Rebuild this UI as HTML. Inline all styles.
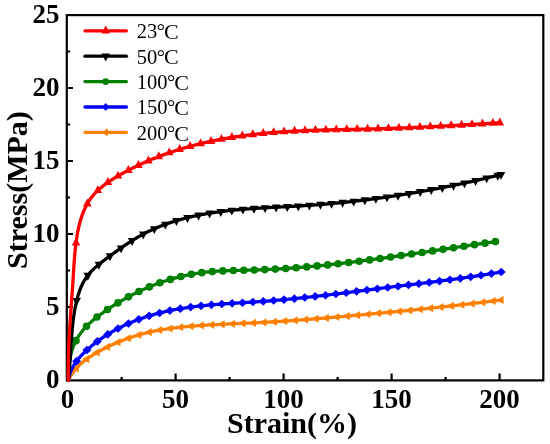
<!DOCTYPE html>
<html><head><meta charset="utf-8"><style>
html,body{margin:0;padding:0;background:#fff;width:550px;height:444px;overflow:hidden}
svg{display:block}
</style></head><body>
<svg width="550" height="444" viewBox="0 0 550 444">
<rect width="550" height="444" fill="#fff"/>
<rect x="66.8" y="15.1" width="476.5" height="365.3" fill="none" stroke="#000" stroke-width="2.2"/>
<path d="M121.6 380.4V377 M175.6 380.4V373.6 M229.6 380.4V377 M283.6 380.4V373.6 M337.6 380.4V377 M391.6 380.4V373.6 M445.6 380.4V377 M499.6 380.4V373.6 M66.8 343.5H70.1 M66.8 307.0H73 M66.8 270.5H70.1 M66.8 234.0H73 M66.8 197.5H70.1 M66.8 161.0H73 M66.8 124.5H70.1 M66.8 88.0H73 M66.8 51.5H70.1" stroke="#000" stroke-width="2.2" fill="none"/>
<path d="M68.77 379.79 L69.18 378.96 L69.60 378.14 L70.03 377.33 L70.48 376.53 L70.94 375.75 L71.41 374.98 L71.89 374.22 L72.39 373.47 L72.90 372.74 L73.42 372.02 L73.96 371.30 L74.50 370.60 L75.06 369.91 L75.63 369.23 L76.21 368.56 L76.80 367.90 L77.40 367.25 L78.01 366.61 L78.63 365.98 L79.26 365.36 L79.89 364.75 L80.54 364.15 L81.20 363.56 L81.86 362.97 L82.53 362.40 L83.22 361.83 L83.90 361.27 L84.60 360.72 L85.30 360.17 L86.01 359.64 L86.73 359.11 L87.46 358.59 L88.19 358.07 L88.92 357.56 L89.66 357.06 L90.41 356.57 L91.16 356.08 L91.92 355.59 L92.68 355.12 L93.45 354.64 L94.22 354.18 L94.99 353.72 L95.77 353.26 L96.56 352.81 L97.34 352.36 L98.13 351.92 L98.92 351.48 L99.71 351.05 L100.51 350.61 L101.31 350.19 L102.11 349.76 L102.91 349.34 L103.71 348.93 L104.52 348.52 L105.33 348.11 L106.14 347.70 L106.95 347.30 L107.76 346.90 L108.58 346.51 L109.40 346.12 L110.21 345.74 L111.04 345.35 L111.86 344.98 L112.68 344.60 L113.51 344.23 L114.34 343.86 L115.16 343.50 L116.00 343.14 L116.83 342.78 L117.66 342.43 L118.50 342.09 L119.34 341.74 L120.17 341.40 L121.01 341.06 L121.86 340.73 L122.70 340.40 L123.54 340.08 L124.39 339.76 L125.24 339.44 L126.09 339.13 L126.94 338.82 L127.79 338.52 L128.64 338.21 L129.49 337.92 L130.35 337.62 L131.20 337.34 L132.06 337.05 L132.92 336.77 L133.78 336.49 L134.64 336.22 L135.50 335.95 L136.37 335.68 L137.23 335.42 L138.10 335.17 L138.96 334.91 L139.83 334.66 L140.70 334.42 L141.57 334.18 L142.44 333.94 L143.31 333.71 L144.18 333.48 L145.05 333.26 L145.92 333.04 L146.80 332.82 L147.67 332.61 L148.55 332.40 L149.43 332.20 L150.30 332.00 L151.18 331.80 L152.06 331.61 L152.94 331.42 L153.82 331.24 L154.70 331.06 L155.58 330.88 L156.46 330.71 L157.34 330.54 L158.22 330.38 L159.11 330.22 L159.99 330.06 L160.88 329.91 L161.76 329.76 L162.65 329.61 L163.53 329.46 L164.42 329.32 L165.30 329.19 L166.19 329.05 L167.08 328.92 L167.97 328.79 L168.86 328.67 L169.74 328.54 L170.63 328.42 L171.52 328.30 L172.41 328.19 L173.31 328.08 L174.20 327.97 L175.09 327.86 L175.98 327.75 L176.87 327.65 L177.76 327.55 L178.66 327.45 L179.55 327.35 L180.44 327.25 L181.34 327.16 L182.23 327.07 L183.12 326.98 L184.02 326.89 L184.91 326.80 L185.81 326.72 L186.70 326.64 L187.60 326.55 L188.49 326.47 L189.39 326.39 L190.28 326.32 L191.18 326.24 L192.08 326.16 L192.97 326.09 L193.87 326.02 L194.77 325.95 L195.66 325.88 L196.56 325.81 L197.46 325.74 L198.36 325.68 L199.26 325.61 L200.15 325.55 L201.05 325.49 L201.95 325.42 L202.85 325.36 L203.75 325.31 L204.65 325.25 L205.54 325.19 L206.44 325.13 L207.34 325.08 L208.24 325.02 L209.14 324.97 L210.04 324.92 L210.94 324.87 L211.84 324.82 L212.74 324.77 L213.64 324.72 L214.54 324.67 L215.44 324.62 L216.34 324.57 L217.24 324.53 L218.15 324.48 L219.05 324.43 L219.95 324.39 L220.85 324.35 L221.75 324.30 L222.65 324.26 L223.55 324.22 L224.45 324.17 L225.35 324.13 L226.26 324.09 L227.16 324.05 L228.06 324.01 L228.96 323.97 L229.86 323.93 L230.76 323.89 L231.67 323.85 L232.57 323.81 L233.47 323.77 L234.37 323.73 L235.27 323.69 L236.18 323.66 L237.08 323.62 L237.98 323.58 L238.88 323.54 L239.78 323.50 L240.69 323.46 L241.59 323.42 L242.49 323.39 L243.39 323.35 L244.29 323.31 L245.20 323.27 L246.10 323.23 L247.00 323.19 L247.90 323.15 L248.80 323.11 L249.71 323.07 L250.61 323.03 L251.51 322.99 L252.41 322.95 L253.31 322.91 L254.22 322.86 L255.12 322.82 L256.02 322.78 L256.92 322.74 L257.82 322.69 L258.72 322.65 L259.62 322.60 L260.53 322.56 L261.43 322.51 L262.33 322.46 L263.23 322.42 L264.13 322.37 L265.03 322.32 L265.93 322.27 L266.83 322.22 L267.73 322.17 L268.63 322.12 L269.53 322.07 L270.44 322.02 L271.34 321.96 L272.24 321.91 L273.14 321.86 L274.04 321.80 L274.94 321.75 L275.84 321.69 L276.74 321.64 L277.64 321.58 L278.54 321.52 L279.44 321.47 L280.34 321.41 L281.24 321.35 L282.14 321.29 L283.03 321.23 L283.93 321.17 L284.83 321.11 L285.73 321.05 L286.63 320.99 L287.53 320.93 L288.43 320.87 L289.33 320.80 L290.23 320.74 L291.13 320.68 L292.03 320.61 L292.93 320.55 L293.83 320.49 L294.72 320.42 L295.62 320.35 L296.52 320.29 L297.42 320.22 L298.32 320.16 L299.22 320.09 L300.12 320.02 L301.02 319.95 L301.91 319.89 L302.81 319.82 L303.71 319.75 L304.61 319.68 L305.51 319.61 L306.41 319.54 L307.30 319.47 L308.20 319.40 L309.10 319.33 L310.00 319.26 L310.90 319.19 L311.80 319.11 L312.69 319.04 L313.59 318.97 L314.49 318.90 L315.39 318.82 L316.29 318.75 L317.18 318.68 L318.08 318.60 L318.98 318.53 L319.88 318.45 L320.78 318.38 L321.67 318.31 L322.57 318.23 L323.47 318.15 L324.37 318.08 L325.26 318.00 L326.16 317.93 L327.06 317.85 L327.96 317.78 L328.86 317.70 L329.75 317.62 L330.65 317.55 L331.55 317.47 L332.45 317.39 L333.34 317.31 L334.24 317.24 L335.14 317.16 L336.04 317.08 L336.93 317.00 L337.83 316.93 L338.73 316.85 L339.63 316.77 L340.52 316.69 L341.42 316.61 L342.32 316.53 L343.22 316.45 L344.12 316.38 L345.01 316.30 L345.91 316.22 L346.81 316.14 L347.71 316.06 L348.60 315.98 L349.50 315.90 L350.40 315.82 L351.30 315.74 L352.19 315.66 L353.09 315.58 L353.99 315.50 L354.89 315.42 L355.78 315.34 L356.68 315.26 L357.58 315.18 L358.48 315.10 L359.37 315.02 L360.27 314.94 L361.17 314.86 L362.07 314.78 L362.97 314.70 L363.86 314.62 L364.76 314.54 L365.66 314.46 L366.56 314.37 L367.45 314.29 L368.35 314.21 L369.25 314.13 L370.15 314.05 L371.04 313.97 L371.94 313.88 L372.84 313.80 L373.74 313.72 L374.63 313.64 L375.53 313.56 L376.43 313.47 L377.33 313.39 L378.22 313.31 L379.12 313.22 L380.02 313.14 L380.92 313.06 L381.81 312.98 L382.71 312.89 L383.61 312.81 L384.51 312.72 L385.40 312.64 L386.30 312.56 L387.20 312.47 L388.10 312.39 L388.99 312.30 L389.89 312.22 L390.79 312.13 L391.69 312.05 L392.58 311.96 L393.48 311.88 L394.38 311.79 L395.28 311.71 L396.17 311.62 L397.07 311.54 L397.97 311.45 L398.86 311.36 L399.76 311.28 L400.66 311.19 L401.56 311.10 L402.45 311.02 L403.35 310.93 L404.25 310.84 L405.15 310.75 L406.04 310.67 L406.94 310.58 L407.84 310.49 L408.73 310.40 L409.63 310.31 L410.53 310.23 L411.43 310.14 L412.32 310.05 L413.22 309.96 L414.12 309.87 L415.01 309.78 L415.91 309.69 L416.81 309.60 L417.70 309.51 L418.60 309.42 L419.50 309.33 L420.40 309.24 L421.29 309.15 L422.19 309.05 L423.09 308.96 L423.98 308.87 L424.88 308.78 L425.78 308.69 L426.67 308.59 L427.57 308.50 L428.47 308.41 L429.36 308.32 L430.26 308.22 L431.16 308.13 L432.05 308.04 L432.95 307.94 L433.85 307.85 L434.74 307.75 L435.64 307.66 L436.54 307.56 L437.43 307.47 L438.33 307.37 L439.23 307.28 L440.12 307.18 L441.02 307.09 L441.91 306.99 L442.81 306.89 L443.71 306.79 L444.60 306.70 L445.50 306.60 L446.40 306.50 L447.29 306.40 L448.19 306.31 L449.08 306.21 L449.98 306.11 L450.88 306.01 L451.77 305.91 L452.67 305.81 L453.56 305.71 L454.46 305.61 L455.36 305.51 L456.25 305.41 L457.15 305.31 L458.04 305.21 L458.94 305.11 L459.83 305.00 L460.73 304.90 L461.63 304.80 L462.52 304.70 L463.42 304.59 L464.31 304.49 L465.21 304.39 L466.10 304.28 L467.00 304.18 L467.89 304.08 L468.79 303.97 L469.69 303.87 L470.58 303.76 L471.48 303.65 L472.37 303.55 L473.27 303.44 L474.16 303.34 L475.06 303.23 L475.95 303.12 L476.85 303.01 L477.74 302.91 L478.64 302.80 L479.53 302.69 L480.43 302.58 L481.32 302.47 L482.22 302.36 L483.11 302.25 L484.01 302.14 L484.90 302.03 L485.80 301.92 L486.69 301.81 L487.58 301.70 L488.48 301.59 L489.37 301.47 L490.27 301.36 L491.16 301.25 L492.06 301.14 L492.95 301.02 L493.85 300.91 L494.74 300.79 L495.63 300.68 L496.53 300.56 L497.42 300.45 L498.32 300.33 L499.21 300.22 L500.10 300.10 L501.00 299.98" fill="none" stroke="#ff8000" stroke-width="3.3" stroke-linejoin="round" stroke-linecap="round"/>
<path d="M71.60 368.35L78.80 364.25L78.80 372.45ZM82.02 359.04L89.22 354.94L89.22 363.14ZM92.44 352.42L99.64 348.32L99.64 356.52ZM102.86 346.95L110.06 342.85L110.06 351.05ZM113.28 342.26L120.48 338.16L120.48 346.36ZM123.70 338.26L130.90 334.16L130.90 342.36ZM134.12 334.93L141.32 330.83L141.32 339.03ZM144.54 332.21L151.74 328.11L151.74 336.31ZM154.96 330.10L162.16 326.00L162.16 334.20ZM165.38 328.48L172.58 324.38L172.58 332.58ZM175.80 327.24L183.00 323.14L183.00 331.34ZM186.22 326.25L193.42 322.15L193.42 330.35ZM196.64 325.46L203.84 321.36L203.84 329.56ZM207.06 324.81L214.26 320.71L214.26 328.91ZM217.48 324.28L224.68 320.18L224.68 328.38ZM227.90 323.81L235.10 319.71L235.10 327.91ZM238.32 323.36L245.52 319.26L245.52 327.46ZM248.74 322.90L255.94 318.80L255.94 327.00ZM259.16 322.38L266.36 318.28L266.36 326.48ZM269.58 321.78L276.78 317.68L276.78 325.88ZM280.00 321.11L287.20 317.01L287.20 325.21ZM290.42 320.38L297.62 316.28L297.62 324.48ZM300.84 319.60L308.04 315.50L308.04 323.70ZM311.26 318.77L318.46 314.67L318.46 322.87ZM321.68 317.90L328.88 313.80L328.88 322.00ZM332.10 317.01L339.30 312.91L339.30 321.11ZM342.52 316.09L349.72 311.99L349.72 320.19ZM352.94 315.17L360.14 311.07L360.14 319.27ZM363.36 314.23L370.56 310.13L370.56 318.33ZM373.78 313.27L380.98 309.17L380.98 317.37ZM384.20 312.30L391.40 308.20L391.40 316.40ZM394.62 311.31L401.82 307.21L401.82 315.41ZM405.04 310.29L412.24 306.19L412.24 314.39ZM415.46 309.25L422.66 305.15L422.66 313.35ZM425.88 308.18L433.08 304.08L433.08 312.28ZM436.30 307.08L443.50 302.98L443.50 311.18ZM446.72 305.94L453.92 301.84L453.92 310.04ZM457.14 304.76L464.34 300.66L464.34 308.86ZM467.56 303.55L474.76 299.45L474.76 307.65ZM477.98 302.29L485.18 298.19L485.18 306.39ZM488.40 300.99L495.60 296.89L495.60 305.09ZM496.40 299.98L503.60 295.88L503.60 304.08Z" fill="#ff8000"/>
<path d="M68.55 379.98 L68.69 379.04 L68.85 378.10 L69.04 377.18 L69.25 376.27 L69.47 375.37 L69.72 374.49 L70.00 373.61 L70.29 372.74 L70.60 371.89 L70.93 371.04 L71.28 370.21 L71.64 369.39 L72.03 368.57 L72.43 367.77 L72.85 366.97 L73.29 366.19 L73.74 365.41 L74.20 364.64 L74.69 363.88 L75.18 363.13 L75.69 362.39 L76.21 361.66 L76.75 360.93 L77.30 360.21 L77.86 359.50 L78.43 358.80 L79.01 358.10 L79.61 357.41 L80.21 356.73 L80.82 356.06 L81.44 355.39 L82.07 354.72 L82.71 354.07 L83.35 353.41 L84.01 352.77 L84.66 352.13 L85.33 351.49 L86.00 350.86 L86.67 350.24 L87.35 349.62 L88.04 349.00 L88.73 348.39 L89.42 347.78 L90.12 347.18 L90.82 346.58 L91.53 345.99 L92.24 345.40 L92.96 344.82 L93.68 344.24 L94.40 343.67 L95.13 343.10 L95.86 342.54 L96.60 341.98 L97.34 341.42 L98.09 340.87 L98.84 340.33 L99.59 339.79 L100.35 339.25 L101.11 338.72 L101.87 338.19 L102.64 337.67 L103.41 337.15 L104.19 336.64 L104.97 336.13 L105.75 335.63 L106.54 335.13 L107.33 334.64 L108.12 334.15 L108.91 333.66 L109.71 333.18 L110.52 332.70 L111.32 332.23 L112.13 331.77 L112.94 331.30 L113.76 330.85 L114.57 330.39 L115.39 329.94 L116.22 329.50 L117.04 329.06 L117.87 328.63 L118.70 328.19 L119.54 327.77 L120.37 327.35 L121.21 326.93 L122.05 326.52 L122.90 326.11 L123.74 325.71 L124.59 325.31 L125.44 324.91 L126.29 324.52 L127.15 324.14 L128.00 323.75 L128.86 323.38 L129.72 323.00 L130.58 322.64 L131.45 322.27 L132.31 321.91 L133.18 321.56 L134.05 321.21 L134.92 320.86 L135.79 320.52 L136.67 320.18 L137.54 319.85 L138.42 319.52 L139.30 319.20 L140.18 318.88 L141.06 318.56 L141.94 318.25 L142.82 317.94 L143.71 317.64 L144.59 317.34 L145.48 317.05 L146.36 316.76 L147.25 316.47 L148.14 316.19 L149.03 315.91 L149.92 315.64 L150.81 315.37 L151.70 315.11 L152.59 314.85 L153.49 314.59 L154.38 314.34 L155.27 314.09 L156.17 313.85 L157.06 313.61 L157.96 313.37 L158.85 313.14 L159.75 312.91 L160.65 312.69 L161.55 312.47 L162.45 312.25 L163.35 312.04 L164.25 311.83 L165.15 311.62 L166.05 311.42 L166.95 311.22 L167.85 311.02 L168.76 310.83 L169.66 310.64 L170.56 310.45 L171.47 310.27 L172.37 310.09 L173.28 309.91 L174.19 309.74 L175.09 309.57 L176.00 309.40 L176.91 309.24 L177.82 309.08 L178.73 308.92 L179.64 308.77 L180.55 308.61 L181.46 308.46 L182.37 308.32 L183.28 308.17 L184.19 308.03 L185.10 307.89 L186.01 307.76 L186.93 307.62 L187.84 307.49 L188.75 307.36 L189.67 307.24 L190.58 307.11 L191.50 306.99 L192.41 306.87 L193.33 306.76 L194.25 306.64 L195.16 306.53 L196.08 306.42 L197.00 306.31 L197.91 306.21 L198.83 306.10 L199.75 306.00 L200.67 305.90 L201.59 305.80 L202.51 305.70 L203.43 305.61 L204.35 305.52 L205.27 305.43 L206.19 305.34 L207.11 305.25 L208.03 305.16 L208.95 305.08 L209.87 304.99 L210.80 304.91 L211.72 304.83 L212.64 304.75 L213.56 304.68 L214.49 304.60 L215.41 304.52 L216.33 304.45 L217.26 304.38 L218.18 304.31 L219.11 304.24 L220.03 304.17 L220.95 304.10 L221.88 304.03 L222.80 303.97 L223.73 303.90 L224.65 303.84 L225.58 303.77 L226.50 303.71 L227.43 303.65 L228.36 303.58 L229.28 303.52 L230.21 303.46 L231.13 303.40 L232.06 303.34 L232.99 303.29 L233.91 303.23 L234.84 303.17 L235.77 303.11 L236.69 303.05 L237.62 303.00 L238.55 302.94 L239.47 302.88 L240.40 302.83 L241.33 302.77 L242.26 302.71 L243.18 302.66 L244.11 302.60 L245.04 302.54 L245.96 302.49 L246.89 302.43 L247.82 302.37 L248.75 302.32 L249.67 302.26 L250.60 302.20 L251.53 302.14 L252.46 302.08 L253.38 302.02 L254.31 301.97 L255.24 301.91 L256.16 301.84 L257.09 301.78 L258.02 301.72 L258.94 301.66 L259.87 301.60 L260.80 301.53 L261.72 301.47 L262.65 301.40 L263.58 301.33 L264.50 301.27 L265.43 301.20 L266.36 301.13 L267.28 301.06 L268.21 300.99 L269.13 300.91 L270.06 300.84 L270.98 300.77 L271.91 300.69 L272.83 300.62 L273.76 300.54 L274.69 300.46 L275.61 300.39 L276.53 300.31 L277.46 300.23 L278.38 300.15 L279.31 300.07 L280.23 299.99 L281.16 299.90 L282.08 299.82 L283.01 299.74 L283.93 299.65 L284.86 299.57 L285.78 299.48 L286.70 299.39 L287.63 299.31 L288.55 299.22 L289.47 299.13 L290.40 299.04 L291.32 298.95 L292.25 298.86 L293.17 298.77 L294.09 298.67 L295.02 298.58 L295.94 298.49 L296.86 298.39 L297.78 298.30 L298.71 298.20 L299.63 298.11 L300.55 298.01 L301.48 297.91 L302.40 297.82 L303.32 297.72 L304.24 297.62 L305.17 297.52 L306.09 297.42 L307.01 297.32 L307.93 297.22 L308.86 297.12 L309.78 297.02 L310.70 296.91 L311.62 296.81 L312.54 296.71 L313.47 296.60 L314.39 296.50 L315.31 296.39 L316.23 296.29 L317.15 296.18 L318.08 296.08 L319.00 295.97 L319.92 295.86 L320.84 295.76 L321.76 295.65 L322.68 295.54 L323.60 295.43 L324.53 295.32 L325.45 295.22 L326.37 295.11 L327.29 295.00 L328.21 294.89 L329.13 294.78 L330.05 294.67 L330.97 294.55 L331.90 294.44 L332.82 294.33 L333.74 294.22 L334.66 294.11 L335.58 293.99 L336.50 293.88 L337.42 293.77 L338.34 293.66 L339.26 293.54 L340.18 293.43 L341.10 293.31 L342.03 293.20 L342.95 293.09 L343.87 292.97 L344.79 292.86 L345.71 292.74 L346.63 292.63 L347.55 292.51 L348.47 292.40 L349.39 292.28 L350.31 292.16 L351.23 292.05 L352.15 291.93 L353.07 291.82 L353.99 291.70 L354.91 291.58 L355.83 291.47 L356.75 291.35 L357.67 291.24 L358.59 291.12 L359.51 291.00 L360.44 290.89 L361.36 290.77 L362.28 290.65 L363.20 290.54 L364.12 290.42 L365.04 290.30 L365.96 290.19 L366.88 290.07 L367.80 289.95 L368.72 289.84 L369.64 289.72 L370.56 289.60 L371.48 289.49 L372.40 289.37 L373.32 289.25 L374.24 289.14 L375.16 289.02 L376.08 288.91 L377.00 288.79 L377.92 288.67 L378.84 288.56 L379.76 288.44 L380.68 288.33 L381.60 288.21 L382.52 288.10 L383.45 287.98 L384.37 287.87 L385.29 287.75 L386.21 287.64 L387.13 287.52 L388.05 287.41 L388.97 287.30 L389.89 287.18 L390.81 287.07 L391.73 286.96 L392.65 286.84 L393.57 286.73 L394.49 286.62 L395.41 286.50 L396.33 286.39 L397.26 286.28 L398.18 286.17 L399.10 286.05 L400.02 285.94 L400.94 285.83 L401.86 285.72 L402.78 285.61 L403.70 285.50 L404.62 285.38 L405.54 285.27 L406.46 285.16 L407.38 285.05 L408.30 284.94 L409.23 284.82 L410.15 284.71 L411.07 284.60 L411.99 284.49 L412.91 284.38 L413.83 284.27 L414.75 284.15 L415.67 284.04 L416.59 283.93 L417.51 283.82 L418.43 283.71 L419.35 283.59 L420.27 283.48 L421.20 283.37 L422.12 283.26 L423.04 283.14 L423.96 283.03 L424.88 282.92 L425.80 282.80 L426.72 282.69 L427.64 282.58 L428.56 282.46 L429.48 282.35 L430.40 282.23 L431.32 282.12 L432.24 282.00 L433.16 281.89 L434.08 281.77 L435.00 281.66 L435.92 281.54 L436.84 281.42 L437.76 281.31 L438.68 281.19 L439.60 281.07 L440.52 280.96 L441.44 280.84 L442.36 280.72 L443.28 280.60 L444.20 280.48 L445.12 280.36 L446.04 280.24 L446.96 280.12 L447.88 280.00 L448.80 279.88 L449.72 279.76 L450.64 279.64 L451.56 279.51 L452.48 279.39 L453.40 279.27 L454.32 279.14 L455.24 279.02 L456.16 278.89 L457.08 278.77 L457.99 278.64 L458.91 278.52 L459.83 278.39 L460.75 278.26 L461.67 278.13 L462.59 278.01 L463.51 277.88 L464.43 277.75 L465.34 277.62 L466.26 277.49 L467.18 277.35 L468.10 277.22 L469.02 277.09 L469.94 276.96 L470.85 276.82 L471.77 276.69 L472.69 276.55 L473.61 276.41 L474.52 276.28 L475.44 276.14 L476.36 276.00 L477.28 275.86 L478.19 275.72 L479.11 275.58 L480.03 275.44 L480.95 275.30 L481.86 275.16 L482.78 275.01 L483.70 274.87 L484.61 274.72 L485.53 274.58 L486.45 274.43 L487.36 274.28 L488.28 274.13 L489.20 273.98 L490.11 273.83 L491.03 273.68 L491.94 273.53 L492.86 273.38 L493.77 273.22 L494.69 273.07 L495.61 272.91 L496.52 272.76 L497.44 272.60 L498.35 272.44 L499.27 272.28 L500.18 272.12 L501.10 271.96" fill="none" stroke="#0000ff" stroke-width="3.3" stroke-linejoin="round" stroke-linecap="round"/>
<path d="M76.60 356.83L81.10 361.13L76.60 365.43L72.10 361.13ZM86.97 345.66L91.47 349.96L86.97 354.26L82.47 349.96ZM97.34 337.12L101.84 341.42L97.34 345.72L92.84 341.42ZM107.71 330.10L112.21 334.40L107.71 338.70L103.21 334.40ZM118.08 324.22L122.58 328.52L118.08 332.82L113.58 328.52ZM128.45 319.26L132.95 323.56L128.45 327.86L123.95 323.56ZM138.82 315.07L143.32 319.37L138.82 323.67L134.32 319.37ZM149.19 311.56L153.69 315.86L149.19 320.16L144.69 315.86ZM159.56 308.66L164.06 312.96L159.56 317.26L155.06 312.96ZM169.93 306.28L174.43 310.58L169.93 314.88L165.43 310.58ZM180.30 304.35L184.80 308.65L180.30 312.95L175.80 308.65ZM190.67 302.80L195.17 307.10L190.67 311.40L186.17 307.10ZM201.04 301.56L205.54 305.86L201.04 310.16L196.54 305.86ZM211.41 300.56L215.91 304.86L211.41 309.16L206.91 304.86ZM221.78 299.74L226.28 304.04L221.78 308.34L217.28 304.04ZM232.15 299.04L236.65 303.34L232.15 307.64L227.65 303.34ZM242.52 298.40L247.02 302.70L242.52 307.00L238.02 302.70ZM252.89 297.76L257.39 302.06L252.89 306.36L248.39 302.06ZM263.26 297.06L267.76 301.36L263.26 305.66L258.76 301.36ZM273.63 296.25L278.13 300.55L273.63 304.85L269.13 300.55ZM284.00 295.35L288.50 299.65L284.00 303.95L279.50 299.65ZM294.37 294.35L298.87 298.65L294.37 302.95L289.87 298.65ZM304.74 293.27L309.24 297.57L304.74 301.87L300.24 297.57ZM315.11 292.12L319.61 296.42L315.11 300.72L310.61 296.42ZM325.48 290.91L329.98 295.21L325.48 299.51L320.98 295.21ZM335.85 289.66L340.35 293.96L335.85 298.26L331.35 293.96ZM346.22 288.38L350.72 292.68L346.22 296.98L341.72 292.68ZM356.59 287.07L361.09 291.37L356.59 295.67L352.09 291.37ZM366.96 285.76L371.46 290.06L366.96 294.36L362.46 290.06ZM377.33 284.45L381.83 288.75L377.33 293.05L372.83 288.75ZM387.70 283.15L392.20 287.45L387.70 291.75L383.20 287.45ZM398.07 281.88L402.57 286.18L398.07 290.48L393.57 286.18ZM408.44 280.62L412.94 284.92L408.44 289.22L403.94 284.92ZM418.81 279.36L423.31 283.66L418.81 287.96L414.31 283.66ZM429.18 278.08L433.68 282.38L429.18 286.68L424.68 282.38ZM439.55 276.78L444.05 281.08L439.55 285.38L435.05 281.08ZM449.92 275.43L454.42 279.73L449.92 284.03L445.42 279.73ZM460.29 274.03L464.79 278.33L460.29 282.63L455.79 278.33ZM470.66 272.55L475.16 276.85L470.66 281.15L466.16 276.85ZM481.03 270.99L485.53 275.29L481.03 279.59L476.53 275.29ZM491.40 269.32L495.90 273.62L491.40 277.92L486.90 273.62ZM501.20 267.66L505.70 271.96L501.20 276.26L496.70 271.96Z" fill="#0000ff"/>
<path d="M68.34 380.01 L68.34 379.03 L68.35 378.04 L68.36 377.05 L68.38 376.06 L68.41 375.07 L68.44 374.08 L68.48 373.09 L68.52 372.10 L68.57 371.11 L68.63 370.12 L68.70 369.14 L68.77 368.15 L68.86 367.17 L68.95 366.19 L69.05 365.21 L69.16 364.24 L69.27 363.26 L69.40 362.29 L69.54 361.33 L69.69 360.36 L69.85 359.41 L70.02 358.45 L70.20 357.50 L70.40 356.56 L70.60 355.61 L70.82 354.68 L71.05 353.75 L71.29 352.82 L71.55 351.90 L71.82 350.99 L72.10 350.08 L72.39 349.18 L72.70 348.28 L73.02 347.40 L73.36 346.51 L73.71 345.64 L74.07 344.77 L74.44 343.91 L74.83 343.05 L75.23 342.20 L75.65 341.36 L76.07 340.53 L76.52 339.70 L76.97 338.88 L77.44 338.07 L77.92 337.27 L78.42 336.47 L78.92 335.68 L79.45 334.90 L79.98 334.13 L80.53 333.37 L81.09 332.61 L81.67 331.86 L82.25 331.12 L82.85 330.39 L83.46 329.67 L84.08 328.95 L84.72 328.24 L85.36 327.54 L86.01 326.84 L86.68 326.15 L87.35 325.47 L88.04 324.80 L88.73 324.13 L89.43 323.46 L90.14 322.81 L90.86 322.16 L91.58 321.51 L92.32 320.88 L93.06 320.24 L93.81 319.62 L94.56 319.00 L95.32 318.38 L96.09 317.77 L96.86 317.16 L97.64 316.56 L98.42 315.97 L99.21 315.38 L100.00 314.79 L100.79 314.21 L101.59 313.63 L102.40 313.06 L103.20 312.49 L104.01 311.92 L104.82 311.36 L105.64 310.80 L106.45 310.25 L107.27 309.70 L108.09 309.15 L108.91 308.61 L109.73 308.06 L110.55 307.53 L111.37 306.99 L112.19 306.46 L113.02 305.94 L113.84 305.41 L114.67 304.89 L115.50 304.37 L116.33 303.86 L117.16 303.35 L117.99 302.84 L118.83 302.34 L119.66 301.84 L120.50 301.34 L121.34 300.85 L122.18 300.36 L123.02 299.87 L123.86 299.39 L124.70 298.91 L125.55 298.44 L126.40 297.97 L127.24 297.50 L128.09 297.03 L128.95 296.57 L129.80 296.12 L130.65 295.66 L131.51 295.21 L132.37 294.77 L133.23 294.32 L134.09 293.88 L134.96 293.45 L135.82 293.02 L136.69 292.59 L137.56 292.16 L138.43 291.74 L139.30 291.33 L140.18 290.91 L141.05 290.51 L141.93 290.10 L142.81 289.70 L143.69 289.30 L144.58 288.91 L145.46 288.52 L146.35 288.13 L147.24 287.75 L148.13 287.37 L149.02 287.00 L149.91 286.63 L150.81 286.26 L151.71 285.90 L152.61 285.54 L153.51 285.18 L154.41 284.83 L155.31 284.49 L156.22 284.14 L157.12 283.81 L158.03 283.47 L158.94 283.14 L159.85 282.82 L160.77 282.49 L161.68 282.18 L162.59 281.86 L163.51 281.55 L164.43 281.25 L165.35 280.95 L166.27 280.65 L167.19 280.36 L168.12 280.07 L169.04 279.78 L169.97 279.50 L170.89 279.23 L171.82 278.96 L172.75 278.69 L173.68 278.43 L174.61 278.17 L175.55 277.92 L176.48 277.67 L177.42 277.42 L178.35 277.18 L179.29 276.94 L180.23 276.71 L181.17 276.49 L182.11 276.26 L183.05 276.04 L183.99 275.83 L184.94 275.62 L185.88 275.42 L186.82 275.22 L187.77 275.02 L188.72 274.83 L189.67 274.64 L190.61 274.46 L191.56 274.28 L192.51 274.11 L193.47 273.94 L194.42 273.78 L195.37 273.62 L196.32 273.47 L197.28 273.32 L198.23 273.18 L199.19 273.04 L200.14 272.90 L201.10 272.77 L202.06 272.65 L203.02 272.53 L203.97 272.41 L204.93 272.30 L205.89 272.19 L206.85 272.09 L207.81 271.99 L208.77 271.90 L209.74 271.81 L210.70 271.72 L211.66 271.64 L212.62 271.56 L213.59 271.48 L214.55 271.41 L215.52 271.34 L216.48 271.27 L217.45 271.21 L218.41 271.15 L219.38 271.09 L220.34 271.04 L221.31 270.99 L222.28 270.94 L223.24 270.89 L224.21 270.85 L225.18 270.81 L226.15 270.77 L227.12 270.73 L228.09 270.69 L229.05 270.66 L230.02 270.62 L230.99 270.59 L231.96 270.56 L232.93 270.53 L233.90 270.50 L234.87 270.48 L235.84 270.45 L236.81 270.43 L237.78 270.40 L238.75 270.38 L239.72 270.36 L240.69 270.33 L241.66 270.31 L242.63 270.29 L243.61 270.27 L244.58 270.25 L245.55 270.22 L246.52 270.20 L247.49 270.18 L248.46 270.16 L249.43 270.13 L250.40 270.11 L251.37 270.08 L252.34 270.06 L253.31 270.03 L254.28 270.00 L255.25 269.97 L256.22 269.94 L257.19 269.91 L258.16 269.88 L259.13 269.84 L260.10 269.81 L261.07 269.77 L262.04 269.73 L263.01 269.69 L263.98 269.65 L264.94 269.61 L265.91 269.57 L266.88 269.53 L267.85 269.48 L268.82 269.44 L269.79 269.39 L270.76 269.35 L271.72 269.30 L272.69 269.25 L273.66 269.20 L274.63 269.15 L275.59 269.09 L276.56 269.04 L277.53 268.98 L278.50 268.93 L279.46 268.87 L280.43 268.81 L281.40 268.76 L282.36 268.70 L283.33 268.64 L284.30 268.57 L285.26 268.51 L286.23 268.45 L287.20 268.38 L288.16 268.32 L289.13 268.25 L290.09 268.18 L291.06 268.11 L292.03 268.05 L292.99 267.98 L293.96 267.90 L294.92 267.83 L295.89 267.76 L296.85 267.69 L297.82 267.61 L298.78 267.53 L299.75 267.46 L300.71 267.38 L301.68 267.30 L302.64 267.22 L303.61 267.14 L304.57 267.06 L305.54 266.98 L306.50 266.90 L307.47 266.81 L308.43 266.73 L309.39 266.64 L310.36 266.56 L311.32 266.47 L312.29 266.38 L313.25 266.29 L314.21 266.21 L315.18 266.12 L316.14 266.02 L317.10 265.93 L318.07 265.84 L319.03 265.75 L319.99 265.65 L320.96 265.56 L321.92 265.46 L322.88 265.37 L323.84 265.27 L324.81 265.17 L325.77 265.07 L326.73 264.97 L327.70 264.87 L328.66 264.77 L329.62 264.67 L330.58 264.57 L331.54 264.47 L332.51 264.36 L333.47 264.26 L334.43 264.16 L335.39 264.05 L336.35 263.94 L337.32 263.84 L338.28 263.73 L339.24 263.62 L340.20 263.51 L341.16 263.40 L342.12 263.29 L343.09 263.18 L344.05 263.07 L345.01 262.96 L345.97 262.85 L346.93 262.73 L347.89 262.62 L348.85 262.51 L349.81 262.39 L350.77 262.28 L351.73 262.16 L352.70 262.04 L353.66 261.93 L354.62 261.81 L355.58 261.69 L356.54 261.57 L357.50 261.45 L358.46 261.33 L359.42 261.21 L360.38 261.09 L361.34 260.97 L362.30 260.85 L363.26 260.72 L364.22 260.60 L365.18 260.48 L366.14 260.35 L367.10 260.23 L368.06 260.10 L369.02 259.98 L369.98 259.85 L370.94 259.73 L371.90 259.60 L372.86 259.47 L373.82 259.35 L374.78 259.22 L375.74 259.09 L376.69 258.96 L377.65 258.83 L378.61 258.70 L379.57 258.57 L380.53 258.44 L381.49 258.31 L382.45 258.18 L383.41 258.05 L384.37 257.91 L385.33 257.78 L386.29 257.65 L387.25 257.52 L388.20 257.38 L389.16 257.25 L390.12 257.11 L391.08 256.98 L392.04 256.84 L393.00 256.71 L393.96 256.57 L394.92 256.44 L395.87 256.30 L396.83 256.17 L397.79 256.03 L398.75 255.89 L399.71 255.75 L400.67 255.62 L401.62 255.48 L402.58 255.34 L403.54 255.20 L404.50 255.06 L405.46 254.92 L406.42 254.79 L407.37 254.65 L408.33 254.51 L409.29 254.37 L410.25 254.23 L411.21 254.09 L412.17 253.95 L413.12 253.81 L414.08 253.67 L415.04 253.52 L416.00 253.38 L416.96 253.24 L417.91 253.10 L418.87 252.96 L419.83 252.82 L420.79 252.67 L421.75 252.53 L422.70 252.39 L423.66 252.25 L424.62 252.10 L425.58 251.96 L426.54 251.82 L427.49 251.68 L428.45 251.53 L429.41 251.39 L430.37 251.25 L431.32 251.10 L432.28 250.96 L433.24 250.82 L434.20 250.67 L435.16 250.53 L436.11 250.39 L437.07 250.24 L438.03 250.10 L438.99 249.96 L439.94 249.81 L440.90 249.67 L441.86 249.52 L442.82 249.38 L443.77 249.24 L444.73 249.09 L445.69 248.95 L446.65 248.80 L447.61 248.66 L448.56 248.52 L449.52 248.37 L450.48 248.23 L451.44 248.08 L452.39 247.94 L453.35 247.80 L454.31 247.65 L455.27 247.51 L456.23 247.37 L457.18 247.22 L458.14 247.08 L459.10 246.94 L460.06 246.79 L461.01 246.65 L461.97 246.51 L462.93 246.36 L463.89 246.22 L464.85 246.08 L465.80 245.94 L466.76 245.79 L467.72 245.65 L468.68 245.51 L469.63 245.37 L470.59 245.23 L471.55 245.08 L472.51 244.94 L473.47 244.80 L474.42 244.66 L475.38 244.52 L476.34 244.38 L477.30 244.24 L478.26 244.10 L479.21 243.96 L480.17 243.82 L481.13 243.68 L482.09 243.54 L483.05 243.40 L484.00 243.26 L484.96 243.12 L485.92 242.98 L486.88 242.84 L487.84 242.70 L488.80 242.57 L489.75 242.43 L490.71 242.29 L491.67 242.15 L492.63 242.02 L493.59 241.88 L494.55 241.75 L495.50 241.61" fill="none" stroke="#008000" stroke-width="3.3" stroke-linejoin="round" stroke-linecap="round"/>
<path d="M72.20 340.67a3.8 3.8 0 1 0 7.60 0a3.8 3.8 0 1 0 -7.60 0ZM82.69 326.35a3.8 3.8 0 1 0 7.60 0a3.8 3.8 0 1 0 -7.60 0ZM93.17 317.07a3.8 3.8 0 1 0 7.60 0a3.8 3.8 0 1 0 -7.60 0ZM103.66 309.57a3.8 3.8 0 1 0 7.60 0a3.8 3.8 0 1 0 -7.60 0ZM114.15 302.87a3.8 3.8 0 1 0 7.60 0a3.8 3.8 0 1 0 -7.60 0ZM124.64 296.85a3.8 3.8 0 1 0 7.60 0a3.8 3.8 0 1 0 -7.60 0ZM135.12 291.51a3.8 3.8 0 1 0 7.60 0a3.8 3.8 0 1 0 -7.60 0ZM145.61 286.83a3.8 3.8 0 1 0 7.60 0a3.8 3.8 0 1 0 -7.60 0ZM156.10 282.80a3.8 3.8 0 1 0 7.60 0a3.8 3.8 0 1 0 -7.60 0ZM166.58 279.38a3.8 3.8 0 1 0 7.60 0a3.8 3.8 0 1 0 -7.60 0ZM177.07 276.56a3.8 3.8 0 1 0 7.60 0a3.8 3.8 0 1 0 -7.60 0ZM187.56 274.32a3.8 3.8 0 1 0 7.60 0a3.8 3.8 0 1 0 -7.60 0ZM198.04 272.67a3.8 3.8 0 1 0 7.60 0a3.8 3.8 0 1 0 -7.60 0ZM208.53 271.58a3.8 3.8 0 1 0 7.60 0a3.8 3.8 0 1 0 -7.60 0ZM219.02 270.91a3.8 3.8 0 1 0 7.60 0a3.8 3.8 0 1 0 -7.60 0ZM229.50 270.52a3.8 3.8 0 1 0 7.60 0a3.8 3.8 0 1 0 -7.60 0ZM239.99 270.26a3.8 3.8 0 1 0 7.60 0a3.8 3.8 0 1 0 -7.60 0ZM250.48 270.00a3.8 3.8 0 1 0 7.60 0a3.8 3.8 0 1 0 -7.60 0ZM260.97 269.62a3.8 3.8 0 1 0 7.60 0a3.8 3.8 0 1 0 -7.60 0ZM271.45 269.11a3.8 3.8 0 1 0 7.60 0a3.8 3.8 0 1 0 -7.60 0ZM281.94 268.48a3.8 3.8 0 1 0 7.60 0a3.8 3.8 0 1 0 -7.60 0ZM292.43 267.73a3.8 3.8 0 1 0 7.60 0a3.8 3.8 0 1 0 -7.60 0ZM302.91 266.88a3.8 3.8 0 1 0 7.60 0a3.8 3.8 0 1 0 -7.60 0ZM313.40 265.92a3.8 3.8 0 1 0 7.60 0a3.8 3.8 0 1 0 -7.60 0ZM323.89 264.88a3.8 3.8 0 1 0 7.60 0a3.8 3.8 0 1 0 -7.60 0ZM334.38 263.74a3.8 3.8 0 1 0 7.60 0a3.8 3.8 0 1 0 -7.60 0ZM344.86 262.53a3.8 3.8 0 1 0 7.60 0a3.8 3.8 0 1 0 -7.60 0ZM355.35 261.24a3.8 3.8 0 1 0 7.60 0a3.8 3.8 0 1 0 -7.60 0ZM365.84 259.90a3.8 3.8 0 1 0 7.60 0a3.8 3.8 0 1 0 -7.60 0ZM376.32 258.50a3.8 3.8 0 1 0 7.60 0a3.8 3.8 0 1 0 -7.60 0ZM386.81 257.05a3.8 3.8 0 1 0 7.60 0a3.8 3.8 0 1 0 -7.60 0ZM397.30 255.55a3.8 3.8 0 1 0 7.60 0a3.8 3.8 0 1 0 -7.60 0ZM407.78 254.03a3.8 3.8 0 1 0 7.60 0a3.8 3.8 0 1 0 -7.60 0ZM418.27 252.48a3.8 3.8 0 1 0 7.60 0a3.8 3.8 0 1 0 -7.60 0ZM428.76 250.92a3.8 3.8 0 1 0 7.60 0a3.8 3.8 0 1 0 -7.60 0ZM439.25 249.35a3.8 3.8 0 1 0 7.60 0a3.8 3.8 0 1 0 -7.60 0ZM449.73 247.77a3.8 3.8 0 1 0 7.60 0a3.8 3.8 0 1 0 -7.60 0ZM460.22 246.20a3.8 3.8 0 1 0 7.60 0a3.8 3.8 0 1 0 -7.60 0ZM470.71 244.65a3.8 3.8 0 1 0 7.60 0a3.8 3.8 0 1 0 -7.60 0ZM481.19 243.12a3.8 3.8 0 1 0 7.60 0a3.8 3.8 0 1 0 -7.60 0ZM491.68 241.61a3.8 3.8 0 1 0 7.60 0a3.8 3.8 0 1 0 -7.60 0Z" fill="#008000"/>
<path d="M68.20 380.00 L68.33 378.93 L68.47 377.86 L68.59 376.79 L68.72 375.72 L68.84 374.65 L68.95 373.57 L69.06 372.50 L69.17 371.43 L69.27 370.35 L69.37 369.27 L69.46 368.19 L69.55 367.11 L69.64 366.04 L69.73 364.95 L69.81 363.87 L69.90 362.79 L69.98 361.71 L70.05 360.63 L70.13 359.54 L70.20 358.46 L70.27 357.37 L70.34 356.29 L70.41 355.20 L70.48 354.12 L70.55 353.03 L70.62 351.94 L70.68 350.86 L70.75 349.77 L70.82 348.68 L70.88 347.59 L70.95 346.50 L71.02 345.42 L71.09 344.33 L71.16 343.24 L71.23 342.15 L71.30 341.06 L71.37 339.97 L71.45 338.89 L71.53 337.80 L71.60 336.71 L71.69 335.62 L71.77 334.54 L71.86 333.45 L71.94 332.36 L72.04 331.27 L72.13 330.19 L72.23 329.10 L72.33 328.02 L72.44 326.93 L72.55 325.85 L72.66 324.76 L72.78 323.68 L72.90 322.60 L73.03 321.52 L73.16 320.43 L73.30 319.35 L73.44 318.27 L73.59 317.20 L73.74 316.12 L73.90 315.04 L74.06 313.96 L74.23 312.89 L74.41 311.81 L74.59 310.74 L74.78 309.67 L74.98 308.60 L75.19 307.53 L75.40 306.46 L75.62 305.39 L75.84 304.32 L76.08 303.26 L76.32 302.19 L76.57 301.13 L76.83 300.07 L77.10 299.01 L77.38 297.96 L77.67 296.91 L77.97 295.86 L78.28 294.82 L78.61 293.78 L78.94 292.75 L79.29 291.73 L79.65 290.71 L80.03 289.70 L80.41 288.69 L80.82 287.70 L81.23 286.71 L81.67 285.73 L82.12 284.76 L82.58 283.80 L83.06 282.85 L83.56 281.92 L84.08 280.99 L84.62 280.07 L85.17 279.17 L85.74 278.28 L86.33 277.40 L86.95 276.54 L87.58 275.69 L88.23 274.85 L88.90 274.03 L89.59 273.22 L90.30 272.42 L91.02 271.63 L91.76 270.86 L92.52 270.10 L93.28 269.34 L94.07 268.60 L94.86 267.87 L95.66 267.14 L96.48 266.43 L97.30 265.72 L98.13 265.02 L98.97 264.32 L99.81 263.63 L100.67 262.95 L101.52 262.27 L102.39 261.60 L103.25 260.93 L104.12 260.27 L105.00 259.61 L105.87 258.95 L106.75 258.30 L107.64 257.65 L108.52 257.00 L109.40 256.35 L110.29 255.70 L111.17 255.06 L112.06 254.42 L112.94 253.77 L113.83 253.13 L114.71 252.49 L115.60 251.85 L116.49 251.22 L117.37 250.58 L118.26 249.95 L119.15 249.32 L120.04 248.70 L120.93 248.07 L121.83 247.45 L122.72 246.83 L123.62 246.22 L124.51 245.61 L125.41 245.00 L126.31 244.39 L127.21 243.79 L128.12 243.19 L129.02 242.60 L129.93 242.01 L130.84 241.43 L131.75 240.85 L132.67 240.27 L133.59 239.70 L134.51 239.14 L135.43 238.58 L136.35 238.02 L137.28 237.47 L138.21 236.93 L139.15 236.39 L140.08 235.86 L141.02 235.33 L141.97 234.81 L142.92 234.30 L143.87 233.79 L144.82 233.29 L145.78 232.79 L146.74 232.31 L147.70 231.83 L148.67 231.35 L149.65 230.89 L150.62 230.42 L151.60 229.97 L152.58 229.52 L153.57 229.08 L154.55 228.64 L155.54 228.21 L156.54 227.79 L157.53 227.37 L158.53 226.96 L159.54 226.56 L160.54 226.16 L161.55 225.76 L162.56 225.38 L163.57 224.99 L164.59 224.62 L165.61 224.25 L166.63 223.88 L167.65 223.52 L168.68 223.17 L169.70 222.82 L170.73 222.48 L171.77 222.14 L172.80 221.81 L173.83 221.49 L174.87 221.16 L175.91 220.85 L176.95 220.54 L178.00 220.23 L179.04 219.93 L180.09 219.64 L181.14 219.35 L182.19 219.06 L183.24 218.78 L184.29 218.50 L185.34 218.23 L186.40 217.97 L187.46 217.70 L188.51 217.45 L189.57 217.19 L190.63 216.95 L191.69 216.70 L192.76 216.46 L193.82 216.23 L194.88 216.00 L195.95 215.77 L197.01 215.55 L198.08 215.33 L199.15 215.12 L200.21 214.91 L201.28 214.71 L202.35 214.50 L203.42 214.31 L204.49 214.11 L205.56 213.92 L206.63 213.74 L207.70 213.56 L208.77 213.38 L209.84 213.20 L210.91 213.03 L211.98 212.86 L213.05 212.70 L214.13 212.54 L215.20 212.38 L216.27 212.23 L217.35 212.08 L218.42 211.93 L219.50 211.78 L220.57 211.64 L221.65 211.50 L222.72 211.37 L223.80 211.24 L224.88 211.11 L225.95 210.98 L227.03 210.85 L228.11 210.73 L229.18 210.61 L230.26 210.50 L231.34 210.38 L232.42 210.27 L233.50 210.16 L234.58 210.06 L235.66 209.95 L236.73 209.85 L237.81 209.75 L238.89 209.65 L239.98 209.56 L241.06 209.46 L242.14 209.37 L243.22 209.28 L244.30 209.20 L245.38 209.11 L246.46 209.03 L247.54 208.94 L248.63 208.86 L249.71 208.78 L250.79 208.71 L251.87 208.63 L252.96 208.56 L254.04 208.48 L255.12 208.41 L256.21 208.34 L257.29 208.27 L258.37 208.20 L259.46 208.14 L260.54 208.07 L261.62 208.00 L262.71 207.94 L263.79 207.88 L264.88 207.82 L265.96 207.75 L267.05 207.69 L268.13 207.63 L269.22 207.57 L270.30 207.51 L271.39 207.46 L272.47 207.40 L273.56 207.34 L274.64 207.28 L275.73 207.23 L276.81 207.17 L277.90 207.12 L278.98 207.06 L280.07 207.00 L281.15 206.95 L282.24 206.89 L283.32 206.83 L284.41 206.78 L285.49 206.72 L286.58 206.67 L287.66 206.61 L288.75 206.55 L289.84 206.49 L290.92 206.44 L292.01 206.38 L293.09 206.32 L294.18 206.26 L295.26 206.20 L296.35 206.14 L297.43 206.07 L298.52 206.01 L299.60 205.95 L300.69 205.88 L301.77 205.82 L302.86 205.75 L303.94 205.68 L305.03 205.61 L306.11 205.54 L307.19 205.47 L308.28 205.40 L309.36 205.33 L310.45 205.25 L311.53 205.18 L312.61 205.10 L313.70 205.02 L314.78 204.94 L315.86 204.86 L316.95 204.78 L318.03 204.70 L319.11 204.61 L320.20 204.53 L321.28 204.44 L322.36 204.35 L323.44 204.26 L324.53 204.17 L325.61 204.08 L326.69 203.99 L327.77 203.90 L328.86 203.80 L329.94 203.71 L331.02 203.61 L332.10 203.51 L333.18 203.41 L334.26 203.31 L335.35 203.21 L336.43 203.11 L337.51 203.00 L338.59 202.90 L339.67 202.79 L340.75 202.68 L341.83 202.58 L342.91 202.47 L343.99 202.36 L345.07 202.24 L346.15 202.13 L347.23 202.02 L348.31 201.90 L349.39 201.79 L350.47 201.67 L351.55 201.55 L352.63 201.43 L353.71 201.31 L354.79 201.19 L355.86 201.06 L356.94 200.94 L358.02 200.82 L359.10 200.69 L360.18 200.56 L361.26 200.43 L362.33 200.30 L363.41 200.17 L364.49 200.04 L365.57 199.91 L366.64 199.77 L367.72 199.64 L368.80 199.50 L369.88 199.36 L370.95 199.23 L372.03 199.09 L373.11 198.95 L374.18 198.80 L375.26 198.66 L376.33 198.52 L377.41 198.37 L378.49 198.23 L379.56 198.08 L380.64 197.93 L381.71 197.78 L382.79 197.63 L383.86 197.48 L384.94 197.33 L386.01 197.17 L387.09 197.02 L388.16 196.86 L389.23 196.71 L390.31 196.55 L391.38 196.39 L392.46 196.23 L393.53 196.07 L394.60 195.91 L395.68 195.74 L396.75 195.58 L397.82 195.41 L398.90 195.25 L399.97 195.08 L401.04 194.91 L402.11 194.74 L403.18 194.57 L404.26 194.40 L405.33 194.23 L406.40 194.05 L407.47 193.88 L408.54 193.70 L409.61 193.53 L410.68 193.35 L411.75 193.17 L412.83 192.99 L413.90 192.81 L414.97 192.63 L416.04 192.44 L417.11 192.26 L418.18 192.07 L419.24 191.89 L420.31 191.70 L421.38 191.51 L422.45 191.32 L423.52 191.13 L424.59 190.94 L425.66 190.75 L426.73 190.56 L427.79 190.36 L428.86 190.17 L429.93 189.97 L431.00 189.77 L432.06 189.58 L433.13 189.38 L434.20 189.18 L435.26 188.98 L436.33 188.77 L437.40 188.57 L438.46 188.37 L439.53 188.16 L440.60 187.95 L441.66 187.75 L442.73 187.54 L443.79 187.33 L444.86 187.12 L445.92 186.91 L446.99 186.70 L448.05 186.48 L449.11 186.27 L450.18 186.05 L451.24 185.84 L452.31 185.62 L453.37 185.40 L454.43 185.18 L455.50 184.96 L456.56 184.74 L457.62 184.52 L458.68 184.30 L459.74 184.07 L460.81 183.85 L461.87 183.62 L462.93 183.40 L463.99 183.17 L465.05 182.94 L466.11 182.71 L467.17 182.48 L468.23 182.25 L469.30 182.02 L470.36 181.78 L471.42 181.55 L472.47 181.31 L473.53 181.08 L474.59 180.84 L475.65 180.60 L476.71 180.36 L477.77 180.12 L478.83 179.88 L479.89 179.64 L480.94 179.40 L482.00 179.15 L483.06 178.91 L484.12 178.66 L485.17 178.42 L486.23 178.17 L487.29 177.92 L488.34 177.67 L489.40 177.42 L490.46 177.17 L491.51 176.92 L492.57 176.66 L493.62 176.41 L494.68 176.16 L495.73 175.90 L496.79 175.64 L497.84 175.39 L498.90 175.13 L499.95 174.87 L501.00 174.61" fill="none" stroke="#000000" stroke-width="3.3" stroke-linejoin="round" stroke-linecap="round"/>
<path d="M76.70 305.87L80.95 297.97L72.45 297.97ZM87.78 280.69L92.03 272.79L83.53 272.79ZM98.86 269.68L103.11 261.78L94.61 261.78ZM109.94 261.22L114.19 253.32L105.69 253.32ZM121.02 253.28L125.27 245.38L116.77 245.38ZM132.10 245.90L136.35 238.00L127.85 238.00ZM143.18 239.42L147.43 231.52L138.93 231.52ZM154.26 234.04L158.51 226.14L150.01 226.14ZM165.34 229.61L169.59 221.71L161.09 221.71ZM176.42 225.96L180.67 218.06L172.17 218.06ZM187.50 222.96L191.75 215.06L183.25 215.06ZM198.58 220.50L202.83 212.60L194.33 212.60ZM209.66 218.50L213.91 210.60L205.41 210.60ZM220.74 216.89L224.99 208.99L216.49 208.99ZM231.82 215.60L236.07 207.70L227.57 207.70ZM242.90 214.58L247.15 206.68L238.65 206.68ZM253.98 213.75L258.23 205.85L249.73 205.85ZM265.06 213.07L269.31 205.17L260.81 205.17ZM276.14 212.47L280.39 204.57L271.89 204.57ZM287.22 211.90L291.47 204.00L282.97 204.00ZM298.30 211.29L302.55 203.39L294.05 203.39ZM309.38 210.59L313.63 202.69L305.13 202.69ZM320.46 209.77L324.71 201.87L316.21 201.87ZM331.54 208.83L335.79 200.93L327.29 200.93ZM342.62 207.76L346.87 199.86L338.37 199.86ZM353.70 206.58L357.95 198.68L349.45 198.68ZM364.78 205.27L369.03 197.37L360.53 197.37ZM375.86 203.85L380.11 195.95L371.61 195.95ZM386.94 202.31L391.19 194.41L382.69 194.41ZM398.02 200.65L402.27 192.75L393.77 192.75ZM409.10 198.88L413.35 190.98L404.85 190.98ZM420.18 196.99L424.43 189.09L415.93 189.09ZM431.26 194.99L435.51 187.09L427.01 187.09ZM442.34 192.88L446.59 184.98L438.09 184.98ZM453.42 190.66L457.67 182.76L449.17 182.76ZM464.50 188.33L468.75 180.43L460.25 180.43ZM475.58 185.88L479.83 177.98L471.33 177.98ZM486.66 183.33L490.91 175.43L482.41 175.43ZM497.74 180.68L501.99 172.78L493.49 172.78ZM501.00 179.87L505.25 171.97L496.75 171.97Z" fill="#000000"/>
<path d="M68.32 380.50 L68.29 379.26 L68.27 378.03 L68.25 376.79 L68.24 375.55 L68.23 374.32 L68.22 373.08 L68.21 371.85 L68.21 370.61 L68.21 369.38 L68.22 368.15 L68.22 366.92 L68.24 365.69 L68.25 364.46 L68.27 363.23 L68.28 362.00 L68.31 360.77 L68.33 359.54 L68.36 358.31 L68.39 357.09 L68.42 355.86 L68.45 354.64 L68.49 353.41 L68.53 352.19 L68.57 350.96 L68.62 349.74 L68.66 348.52 L68.71 347.30 L68.76 346.07 L68.81 344.85 L68.87 343.63 L68.92 342.41 L68.98 341.19 L69.04 339.97 L69.10 338.75 L69.17 337.53 L69.23 336.31 L69.30 335.09 L69.36 333.88 L69.43 332.66 L69.50 331.44 L69.58 330.22 L69.65 329.01 L69.72 327.79 L69.80 326.57 L69.88 325.36 L69.95 324.14 L70.03 322.93 L70.11 321.71 L70.19 320.50 L70.28 319.28 L70.36 318.07 L70.44 316.85 L70.53 315.64 L70.61 314.42 L70.70 313.21 L70.78 311.99 L70.87 310.78 L70.95 309.56 L71.04 308.35 L71.13 307.14 L71.22 305.92 L71.30 304.71 L71.39 303.49 L71.48 302.28 L71.57 301.07 L71.65 299.85 L71.74 298.64 L71.83 297.42 L71.92 296.21 L72.00 294.99 L72.09 293.78 L72.18 292.57 L72.26 291.35 L72.35 290.14 L72.43 288.92 L72.52 287.71 L72.60 286.49 L72.68 285.28 L72.77 284.06 L72.85 282.84 L72.93 281.63 L73.01 280.41 L73.09 279.20 L73.16 277.98 L73.24 276.76 L73.32 275.54 L73.39 274.33 L73.47 273.11 L73.54 271.89 L73.62 270.67 L73.69 269.45 L73.77 268.23 L73.85 267.02 L73.92 265.80 L74.00 264.58 L74.09 263.36 L74.17 262.14 L74.26 260.92 L74.35 259.70 L74.44 258.48 L74.54 257.26 L74.63 256.04 L74.74 254.82 L74.85 253.60 L74.96 252.38 L75.07 251.16 L75.20 249.94 L75.32 248.72 L75.45 247.49 L75.59 246.27 L75.74 245.05 L75.89 243.83 L76.05 242.61 L76.21 241.39 L76.38 240.17 L76.56 238.95 L76.75 237.73 L76.94 236.51 L77.15 235.29 L77.36 234.07 L77.58 232.85 L77.81 231.63 L78.05 230.42 L78.30 229.20 L78.56 227.99 L78.83 226.78 L79.12 225.58 L79.41 224.37 L79.72 223.18 L80.04 221.99 L80.37 220.80 L80.72 219.62 L81.08 218.45 L81.45 217.28 L81.84 216.12 L82.24 214.97 L82.66 213.83 L83.10 212.69 L83.55 211.57 L84.01 210.45 L84.50 209.35 L85.00 208.25 L85.52 207.17 L86.06 206.10 L86.61 205.04 L87.19 204.00 L87.78 202.97 L88.39 201.95 L89.03 200.94 L89.68 199.95 L90.35 198.98 L91.05 198.02 L91.77 197.08 L92.51 196.15 L93.26 195.24 L94.04 194.35 L94.84 193.47 L95.66 192.60 L96.49 191.75 L97.34 190.91 L98.21 190.09 L99.10 189.28 L100.00 188.48 L100.91 187.69 L101.84 186.92 L102.78 186.16 L103.74 185.41 L104.71 184.67 L105.69 183.94 L106.68 183.22 L107.68 182.51 L108.69 181.82 L109.71 181.13 L110.74 180.45 L111.77 179.77 L112.82 179.11 L113.87 178.46 L114.93 177.81 L115.99 177.17 L117.05 176.53 L118.12 175.91 L119.20 175.29 L120.28 174.67 L121.36 174.06 L122.44 173.46 L123.52 172.86 L124.61 172.26 L125.70 171.67 L126.79 171.09 L127.88 170.51 L128.97 169.94 L130.07 169.37 L131.17 168.81 L132.27 168.25 L133.37 167.70 L134.47 167.15 L135.58 166.61 L136.69 166.08 L137.80 165.54 L138.91 165.02 L140.02 164.50 L141.14 163.98 L142.26 163.47 L143.38 162.96 L144.50 162.46 L145.62 161.96 L146.74 161.47 L147.87 160.98 L149.00 160.50 L150.13 160.02 L151.26 159.55 L152.39 159.08 L153.53 158.62 L154.66 158.16 L155.80 157.71 L156.94 157.26 L158.08 156.82 L159.22 156.38 L160.37 155.94 L161.51 155.51 L162.66 155.09 L163.81 154.66 L164.96 154.25 L166.11 153.84 L167.26 153.43 L168.42 153.02 L169.57 152.63 L170.73 152.23 L171.89 151.84 L173.05 151.46 L174.21 151.07 L175.38 150.70 L176.54 150.33 L177.70 149.96 L178.87 149.59 L180.04 149.23 L181.21 148.88 L182.38 148.53 L183.55 148.18 L184.72 147.84 L185.90 147.50 L187.07 147.16 L188.25 146.83 L189.43 146.51 L190.61 146.18 L191.79 145.87 L192.97 145.55 L194.15 145.24 L195.33 144.93 L196.52 144.63 L197.70 144.33 L198.89 144.04 L200.08 143.75 L201.27 143.46 L202.45 143.18 L203.64 142.90 L204.84 142.62 L206.03 142.35 L207.22 142.08 L208.41 141.82 L209.61 141.56 L210.80 141.30 L212.00 141.05 L213.20 140.80 L214.40 140.55 L215.59 140.31 L216.79 140.07 L217.99 139.84 L219.19 139.60 L220.40 139.38 L221.60 139.15 L222.80 138.93 L224.00 138.71 L225.21 138.50 L226.41 138.29 L227.62 138.08 L228.83 137.88 L230.03 137.67 L231.24 137.48 L232.45 137.28 L233.66 137.09 L234.86 136.90 L236.07 136.72 L237.28 136.54 L238.49 136.36 L239.70 136.18 L240.92 136.01 L242.13 135.84 L243.34 135.68 L244.55 135.52 L245.76 135.36 L246.98 135.20 L248.19 135.05 L249.40 134.90 L250.62 134.75 L251.83 134.60 L253.05 134.46 L254.26 134.32 L255.48 134.19 L256.69 134.05 L257.91 133.92 L259.12 133.80 L260.34 133.67 L261.55 133.55 L262.77 133.43 L263.99 133.31 L265.21 133.20 L266.42 133.08 L267.64 132.97 L268.86 132.87 L270.08 132.76 L271.29 132.66 L272.51 132.56 L273.73 132.46 L274.95 132.37 L276.17 132.27 L277.39 132.18 L278.61 132.09 L279.83 132.01 L281.05 131.92 L282.27 131.84 L283.49 131.76 L284.71 131.68 L285.93 131.60 L287.15 131.53 L288.37 131.45 L289.59 131.38 L290.81 131.31 L292.03 131.24 L293.26 131.18 L294.48 131.11 L295.70 131.05 L296.92 130.99 L298.14 130.93 L299.37 130.87 L300.59 130.82 L301.81 130.76 L303.03 130.71 L304.26 130.66 L305.48 130.61 L306.70 130.56 L307.93 130.51 L309.15 130.46 L310.37 130.42 L311.60 130.37 L312.82 130.33 L314.04 130.29 L315.27 130.25 L316.49 130.21 L317.72 130.17 L318.94 130.13 L320.17 130.09 L321.39 130.06 L322.61 130.02 L323.84 129.99 L325.06 129.95 L326.29 129.92 L327.51 129.89 L328.74 129.86 L329.96 129.83 L331.19 129.80 L332.41 129.77 L333.64 129.74 L334.86 129.71 L336.09 129.68 L337.31 129.65 L338.54 129.63 L339.76 129.60 L340.99 129.57 L342.21 129.55 L343.44 129.52 L344.66 129.49 L345.89 129.47 L347.12 129.44 L348.34 129.42 L349.57 129.39 L350.79 129.37 L352.02 129.34 L353.24 129.32 L354.47 129.29 L355.69 129.27 L356.92 129.24 L358.14 129.22 L359.37 129.19 L360.59 129.17 L361.82 129.14 L363.04 129.11 L364.27 129.09 L365.49 129.06 L366.72 129.03 L367.94 129.00 L369.17 128.98 L370.39 128.95 L371.62 128.92 L372.84 128.89 L374.07 128.86 L375.29 128.82 L376.52 128.79 L377.74 128.76 L378.97 128.73 L380.19 128.69 L381.41 128.66 L382.64 128.62 L383.86 128.58 L385.09 128.55 L386.31 128.51 L387.53 128.47 L388.76 128.43 L389.98 128.39 L391.20 128.35 L392.43 128.30 L393.65 128.26 L394.88 128.22 L396.10 128.17 L397.32 128.13 L398.54 128.08 L399.77 128.03 L400.99 127.99 L402.21 127.94 L403.44 127.89 L404.66 127.84 L405.88 127.79 L407.11 127.74 L408.33 127.69 L409.55 127.64 L410.77 127.59 L412.00 127.53 L413.22 127.48 L414.44 127.43 L415.66 127.37 L416.89 127.32 L418.11 127.26 L419.33 127.20 L420.55 127.15 L421.77 127.09 L423.00 127.03 L424.22 126.97 L425.44 126.92 L426.66 126.86 L427.89 126.80 L429.11 126.74 L430.33 126.68 L431.55 126.61 L432.77 126.55 L434.00 126.49 L435.22 126.43 L436.44 126.37 L437.66 126.30 L438.88 126.24 L440.11 126.18 L441.33 126.11 L442.55 126.05 L443.77 125.98 L444.99 125.92 L446.21 125.85 L447.44 125.79 L448.66 125.72 L449.88 125.65 L451.10 125.59 L452.32 125.52 L453.55 125.45 L454.77 125.38 L455.99 125.32 L457.21 125.25 L458.43 125.18 L459.66 125.11 L460.88 125.04 L462.10 124.97 L463.32 124.90 L464.54 124.84 L465.77 124.77 L466.99 124.70 L468.21 124.63 L469.43 124.56 L470.65 124.49 L471.88 124.42 L473.10 124.35 L474.32 124.28 L475.54 124.21 L476.77 124.14 L477.99 124.06 L479.21 123.99 L480.43 123.92 L481.66 123.85 L482.88 123.78 L484.10 123.71 L485.32 123.64 L486.55 123.57 L487.77 123.50 L488.99 123.43 L490.22 123.36 L491.44 123.29 L492.66 123.22 L493.88 123.14 L495.11 123.07 L496.33 123.00 L497.55 122.93 L498.78 122.86 L500.00 122.79" fill="none" stroke="#ff0000" stroke-width="3.3" stroke-linejoin="round" stroke-linecap="round"/>
<path d="M76.00 237.69L80.25 245.59L71.75 245.59ZM87.30 198.53L91.55 206.43L83.05 206.43ZM97.80 185.21L102.05 193.11L93.55 193.11ZM107.90 177.09L112.15 184.99L103.65 184.99ZM118.00 170.71L122.25 178.61L113.75 178.61ZM128.30 165.03L132.55 172.93L124.05 172.93ZM138.40 159.99L142.65 167.89L134.15 167.89ZM148.38 155.50L152.63 163.40L144.13 163.40ZM158.82 151.26L163.07 159.16L154.57 159.16ZM169.26 147.47L173.51 155.37L165.01 155.37ZM179.70 144.07L183.95 151.97L175.45 151.97ZM190.14 141.04L194.39 148.94L185.89 148.94ZM200.58 138.36L204.83 146.26L196.33 146.26ZM211.02 135.99L215.27 143.89L206.77 143.89ZM221.46 133.91L225.71 141.81L217.21 141.81ZM231.90 132.10L236.15 140.00L227.65 140.00ZM242.34 130.55L246.59 138.45L238.09 138.45ZM252.78 129.23L257.03 137.13L248.53 137.13ZM263.22 128.12L267.47 136.02L258.97 136.02ZM273.66 127.20L277.91 135.10L269.41 135.10ZM284.10 126.45L288.35 134.35L279.85 134.35ZM294.54 125.84L298.79 133.74L290.29 133.74ZM304.98 125.36L309.23 133.26L300.73 133.26ZM315.42 124.97L319.67 132.87L311.17 132.87ZM325.86 124.66L330.11 132.56L321.61 132.56ZM336.30 124.41L340.55 132.31L332.05 132.31ZM346.74 124.18L350.99 132.08L342.49 132.08ZM357.18 123.97L361.43 131.87L352.93 131.87ZM367.62 123.74L371.87 131.64L363.37 131.64ZM378.06 123.48L382.31 131.38L373.81 131.38ZM388.50 123.17L392.75 131.07L384.25 131.07ZM398.94 122.80L403.19 130.70L394.69 130.70ZM409.38 122.38L413.63 130.28L405.13 130.28ZM419.82 121.91L424.07 129.81L415.57 129.81ZM430.26 121.41L434.51 129.31L426.01 129.31ZM440.70 120.88L444.95 128.78L436.45 128.78ZM451.14 120.32L455.39 128.22L446.89 128.22ZM461.58 119.74L465.83 127.64L457.33 127.64ZM472.02 119.14L476.27 127.04L467.77 127.04ZM482.46 118.54L486.71 126.44L478.21 126.44ZM492.90 117.94L497.15 125.84L488.65 125.84ZM499.80 117.54L504.05 125.44L495.55 125.44Z" fill="#ff0000"/>
<text x="67.6" y="408.1" text-anchor="middle" style="font-family:'Liberation Serif','Times New Roman',serif;font-weight:bold;font-size:27px">0</text>
<text x="175.6" y="408.1" text-anchor="middle" style="font-family:'Liberation Serif','Times New Roman',serif;font-weight:bold;font-size:27px">50</text>
<text x="283.6" y="408.1" text-anchor="middle" style="font-family:'Liberation Serif','Times New Roman',serif;font-weight:bold;font-size:27px">100</text>
<text x="391.6" y="408.1" text-anchor="middle" style="font-family:'Liberation Serif','Times New Roman',serif;font-weight:bold;font-size:27px">150</text>
<text x="499.6" y="408.1" text-anchor="middle" style="font-family:'Liberation Serif','Times New Roman',serif;font-weight:bold;font-size:27px">200</text>
<text x="59.5" y="388.0" text-anchor="end" style="font-family:'Liberation Serif','Times New Roman',serif;font-weight:bold;font-size:27px">0</text>
<text x="59.5" y="315.0" text-anchor="end" style="font-family:'Liberation Serif','Times New Roman',serif;font-weight:bold;font-size:27px">5</text>
<text x="59.5" y="242.0" text-anchor="end" style="font-family:'Liberation Serif','Times New Roman',serif;font-weight:bold;font-size:27px">10</text>
<text x="59.5" y="169.0" text-anchor="end" style="font-family:'Liberation Serif','Times New Roman',serif;font-weight:bold;font-size:27px">15</text>
<text x="59.5" y="96.0" text-anchor="end" style="font-family:'Liberation Serif','Times New Roman',serif;font-weight:bold;font-size:27px">20</text>
<text x="59.5" y="23.0" text-anchor="end" style="font-family:'Liberation Serif','Times New Roman',serif;font-weight:bold;font-size:27px">25</text>
<text x="292" y="432.7" text-anchor="middle" style="font-family:'Liberation Serif','Times New Roman',serif;font-weight:bold;font-size:30px">Strain(%)</text>
<text transform="translate(26.7 190.1) rotate(-90)" x="0" y="0" text-anchor="middle" style="font-family:'Liberation Serif','Times New Roman',serif;font-weight:bold;font-size:30px">Stress(MPa)</text>
<path d="M85 30.8H126.4" stroke="#ff0000" stroke-width="3.3" stroke-linecap="round"/>
<path d="M105.70 25.53L109.95 33.43L101.45 33.43Z" fill="#ff0000"/>
<text x="136.8" y="38.1" style="font-family:'Liberation Serif','Times New Roman',serif;font-size:20.5px">23<tspan dx="-0.6">°</tspan><tspan dx="-1.0" dy="0.8" style="font-size:22px">C</tspan></text>
<path d="M85 56.2H126.4" stroke="#000000" stroke-width="3.3" stroke-linecap="round"/>
<path d="M105.70 61.47L109.95 53.57L101.45 53.57Z" fill="#000000"/>
<text x="136.8" y="63.5" style="font-family:'Liberation Serif','Times New Roman',serif;font-size:20.5px">50<tspan dx="-0.6">°</tspan><tspan dx="-1.0" dy="0.8" style="font-size:22px">C</tspan></text>
<path d="M85 81.6H126.4" stroke="#008000" stroke-width="3.3" stroke-linecap="round"/>
<path d="M102.28 81.60a3.42 3.42 0 1 0 6.84 0a3.42 3.42 0 1 0 -6.84 0Z" fill="#008000"/>
<text x="136.8" y="88.9" style="font-family:'Liberation Serif','Times New Roman',serif;font-size:20.5px">100<tspan dx="-0.6">°</tspan><tspan dx="-1.0" dy="0.8" style="font-size:22px">C</tspan></text>
<path d="M85 107.0H126.4" stroke="#0000ff" stroke-width="3.3" stroke-linecap="round"/>
<path d="M105.70 103.00L109.20 107.00L105.70 111.00L102.20 107.00Z" fill="#0000ff"/>
<text x="136.8" y="114.3" style="font-family:'Liberation Serif','Times New Roman',serif;font-size:20.5px">150<tspan dx="-0.6">°</tspan><tspan dx="-1.0" dy="0.8" style="font-size:22px">C</tspan></text>
<path d="M85 132.4H126.4" stroke="#ff8000" stroke-width="3.3" stroke-linecap="round"/>
<path d="M101.62 132.40L107.74 128.30L107.74 136.50Z" fill="#ff8000"/>
<text x="136.8" y="139.7" style="font-family:'Liberation Serif','Times New Roman',serif;font-size:20.5px">200<tspan dx="-0.6">°</tspan><tspan dx="-1.0" dy="0.8" style="font-size:22px">C</tspan></text>
</svg>
</body></html>
